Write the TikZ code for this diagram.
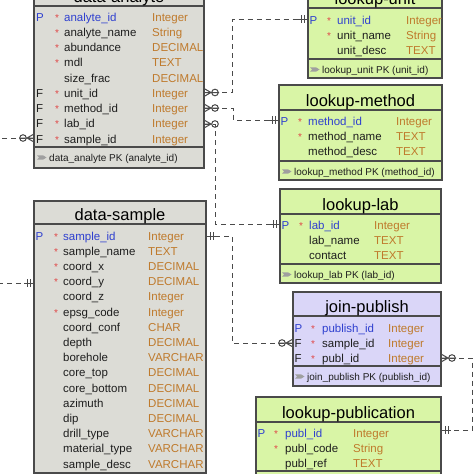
\documentclass[tikz,border=0pt]{standalone}
\usepackage{fontspec}
\setmainfont{Liberation Sans}
\definecolor{dgray}{HTML}{DCDCD6}
\definecolor{lgreen}{HTML}{D9F5A6}
\definecolor{lviolet}{HTML}{DAD6F8}
\definecolor{bordc}{HTML}{4A4A4A}
\definecolor{pkblue}{HTML}{2F40CF}
\definecolor{typeor}{HTML}{BF7A2C}
\definecolor{starred}{HTML}{E04848}
\definecolor{txt}{HTML}{1E1E1E}
\definecolor{relc}{HTML}{4A4A4A}
\tikzset{
 tbl/.style={draw=bordc, line width=1.1pt, inner sep=0pt, outer sep=0pt, anchor=north west},
 sepl/.style={draw=bordc, line width=1.1pt},
 ttl/.style={anchor=base, inner sep=0pt, font=\fontsize{16.5}{18}\selectfont, text=black},
 fld/.style={anchor=base west, inner sep=0pt, font=\fontsize{11.5}{13}\selectfont, text=txt},
 pkname/.style={fld, text=pkblue},
 typ/.style={fld, text=typeor},
 strk/.style={anchor=base west, inner sep=0pt, font=\fontsize{10}{12}\selectfont, text=starred},
 foot/.style={anchor=base west, inner sep=0pt, font=\fontsize{10}{12}\selectfont, text=txt},
 rel/.style={draw=relc, line width=1pt, dash pattern=on 5pt off 4pt},
 endl/.style={draw=relc, line width=1pt, solid},
 manyopt/.pic={\draw[endl] (0,-4) -- (7,0) -- (0,4) (0,0) -- (15,0); \draw[endl] (11,0) circle (3.3pt);},
 manyoptc/.pic={\draw[endl] (0,-4) -- (7,0) -- (0,4) (0,0) -- (7.7,0); \draw[endl] (11,0) circle (3.3pt);},
 onemand/.pic={\draw[endl] (0,0) -- (10,0) (4,-4) -- (4,4) (7,-4) -- (7,4);},
}
\newcommand\ertbl[8]{%
 \node[tbl, fill=#6, minimum width={(#4-#2)*1pt}, minimum height={(#5-#3)*1pt}] (#1) at (#2,#3) {};
 \draw[sepl] (#2,#7) -- (#4,#7);
 \draw[sepl] (#2,#8) -- (#4,#8);}
\newcommand\ertitle[4]{\node[ttl] (#1-title) at (#2,#3) {#4};}
\newcommand\pkrow[4]{%
 \node[pkname] (#1-k) at (\kx,#2+4) {P};
 \node[strk] (#1-s) at (\sx,#2+4) {*};
 \node[pkname] (#1-n) at (\nx,#2+4) {#3};
 \node[typ] (#1-t) at (\tx,#2+4) {#4};}
\newcommand\erow[6]{%
 \node[fld] (#1-k) at (\kx,#2+4) {#3};
 \node[strk] (#1-s) at (\sx,#2+4) {#4};
 \node[fld] (#1-n) at (\nx,#2+4) {#5};
 \node[typ] (#1-t) at (\tx,#2+4) {#6};}
\newcommand\erfoot[4]{%
 \fill[gray!75!black!60] (#2,#3+8.3) -- (#2+6,#3+8.3) -- (#2+9.5,#3+10.5) -- (#2+6,#3+12.7) -- (#2,#3+12.7) -- (#2+2,#3+10.5) -- cycle;
 \node[foot] (#1-foot) at (#2+12,#3+14) {#4};}
\begin{document}
\begin{tikzpicture}[x=1pt,y=-1pt]
\useasboundingbox (0,0) rectangle (474,474);
\clip (0,0) rectangle (474,474);
\fill[white] (0,0) rectangle (474,474);

% data-analyte
\ertbl{da}{34}{-17}{204}{168}{dgray}{6}{147}
\ertitle{da}{119}{2}{data-analyte}
\def\kx{36}\def\sx{55}\def\nx{64}\def\tx{152}
\pkrow{da1}{17}{analyte\_id}{Integer}
\erow{da2}{32.25}{}{*}{analyte\_name}{String}
\erow{da3}{47.5}{}{*}{abundance}{DECIMAL}
\erow{da4}{62.75}{}{*}{mdl}{TEXT}
\erow{da5}{78}{}{}{size\_frac}{DECIMAL}
\erow{da6}{93.25}{F}{*}{unit\_id}{Integer}
\erow{da7}{108.5}{F}{*}{method\_id}{Integer}
\erow{da8}{123.75}{F}{*}{lab\_id}{Integer}
\erow{da9}{139}{F}{*}{sample\_id}{Integer}
\erfoot{da}{37}{147}{data\_analyte PK (analyte\_id)}

% lookup-unit
\ertbl{lu}{308}{-16}{442}{78}{lgreen}{8}{59}
\ertitle{lu}{375}{4}{lookup-unit}
\def\kx{309.5}\def\sx{327}\def\nx{337}\def\tx{406}
\pkrow{lu1}{20}{unit\_id}{Integer}
\erow{lu2}{35}{}{*}{unit\_name}{String}
\erow{lu3}{50}{}{}{unit\_desc}{TEXT}
\erfoot{lu}{310}{59}{lookup\_unit PK (unit\_id)}

% lookup-method
\ertbl{lm}{279}{85}{442}{180}{lgreen}{110}{161}
\ertitle{lm}{360.5}{106}{lookup-method}
\def\kx{280.5}\def\sx{298}\def\nx{308}\def\tx{396}
\pkrow{lm1}{121.5}{method\_id}{Integer}
\erow{lm2}{136.7}{}{*}{method\_name}{TEXT}
\erow{lm3}{151.9}{}{}{method\_desc}{TEXT}
\erfoot{lm}{282}{161}{lookup\_method PK (method\_id)}

% lookup-lab
\ertbl{ll}{280}{189}{441}{283}{lgreen}{214}{264}
\ertitle{ll}{360.5}{210}{lookup-lab}
\def\kx{281.5}\def\sx{299}\def\nx{309}\def\tx{374}
\pkrow{ll1}{225}{lab\_id}{Integer}
\erow{ll2}{240.3}{}{}{lab\_name}{TEXT}
\erow{ll3}{255.6}{}{}{contact}{TEXT}
\erfoot{ll}{282}{264}{lookup\_lab PK (lab\_id)}

% join-publish
\ertbl{jp}{293}{292}{441}{386}{lviolet}{316}{366}
\ertitle{jp}{367}{312}{join-publish}
\def\kx{294.5}\def\sx{311}\def\nx{322}\def\tx{388}
\pkrow{jp1}{328}{publish\_id}{Integer}
\erow{jp2}{343}{F}{*}{sample\_id}{Integer}
\erow{jp3}{358}{F}{*}{publ\_id}{Integer}
\erfoot{jp}{295}{366}{join\_publish PK (publish\_id)}

% lookup-publication
\ertbl{lp}{256}{397}{441}{495}{lgreen}{422}{471}
\ertitle{lp}{348.5}{418}{lookup-publication}
\def\kx{257.5}\def\sx{274}\def\nx{285}\def\tx{353}
\pkrow{lp1}{433}{publ\_id}{Integer}
\erow{lp2}{448}{}{*}{publ\_code}{String}
\erow{lp3}{463}{}{}{publ\_ref}{TEXT}

% data-sample
\ertbl{ds}{34}{201}{206}{500}{dgray}{224}{473}
\ertitle{ds}{120}{220}{data-sample}
\def\kx{35.5}\def\sx{54}\def\nx{63}\def\tx{148}
\pkrow{ds1}{236}{sample\_id}{Integer}
\erow{ds2}{251.2}{}{*}{sample\_name}{TEXT}
\erow{ds3}{266.4}{}{*}{coord\_x}{DECIMAL}
\erow{ds4}{281.6}{}{*}{coord\_y}{DECIMAL}
\erow{ds5}{296.8}{}{}{coord\_z}{Integer}
\erow{ds6}{312}{}{*}{epsg\_code}{Integer}
\erow{ds7}{327.2}{}{}{coord\_conf}{CHAR}
\erow{ds8}{342.4}{}{}{depth}{DECIMAL}
\erow{ds9}{357.6}{}{}{borehole}{VARCHAR}
\erow{ds10}{372.8}{}{}{core\_top}{DECIMAL}
\erow{ds11}{388}{}{}{core\_bottom}{DECIMAL}
\erow{ds12}{403.2}{}{}{azimuth}{DECIMAL}
\erow{ds13}{418.4}{}{}{dip}{DECIMAL}
\erow{ds14}{433.6}{}{}{drill\_type}{VARCHAR}
\erow{ds15}{448.8}{}{}{material\_type}{VARCHAR}
\erow{ds16}{464}{}{}{sample\_desc}{VARCHAR}

% connectors
\coordinate (c-da-unit) at (204,92.5);
\coordinate (k-unit) at (232,19);
\coordinate (c-lu-unit) at (308,19);
\draw[rel] (c-da-unit) -| (k-unit) -- (c-lu-unit);
\pic at (c-da-unit) {manyopt};
\pic[xscale=-1] at (c-lu-unit) {onemand};

\coordinate (c-da-meth) at (204,108);
\coordinate (k-meth) at (233.5,120);
\coordinate (c-lm-meth) at (279,120);
\draw[rel] (c-da-meth) -| (k-meth) -- (c-lm-meth);
\pic at (c-da-meth) {manyopt};
\pic[xscale=-1] at (c-lm-meth) {onemand};

\coordinate (c-da-lab) at (204,124);
\coordinate (k-lab) at (215,224);
\coordinate (c-ll-lab) at (280,224);
\draw[rel] (c-da-lab) -| (k-lab) -- (c-ll-lab);
\pic at (c-da-lab) {manyoptc};
\pic[xscale=-1] at (c-ll-lab) {onemand};

\coordinate (c-ds-samp) at (206,236);
\coordinate (k-samp) at (232,343);
\coordinate (c-jp-samp) at (293,343);
\draw[rel] (c-ds-samp) -| (k-samp) -- (c-jp-samp);
\pic at (c-ds-samp) {onemand};
\pic[xscale=-1] at (c-jp-samp) {manyopt};

\coordinate (c-jp-publ) at (441,358);
\coordinate (k-publ) at (472.5,430);
\coordinate (c-lp-publ) at (441,430);
\draw[rel] (c-jp-publ) -| (k-publ) -- (c-lp-publ);
\pic at (c-jp-publ) {manyopt};
\pic at (c-lp-publ) {onemand};

\coordinate (c-da-samp) at (34,138);
\coordinate (k-left) at (-15,283);
\coordinate (c-ds-left) at (34,283);
\draw[rel] (c-da-samp) -| (k-left) -- (c-ds-left);
\pic[xscale=-1] at (c-da-samp) {manyopt};
\pic[xscale=-1] at (c-ds-left) {onemand};
\end{tikzpicture}
\end{document}
